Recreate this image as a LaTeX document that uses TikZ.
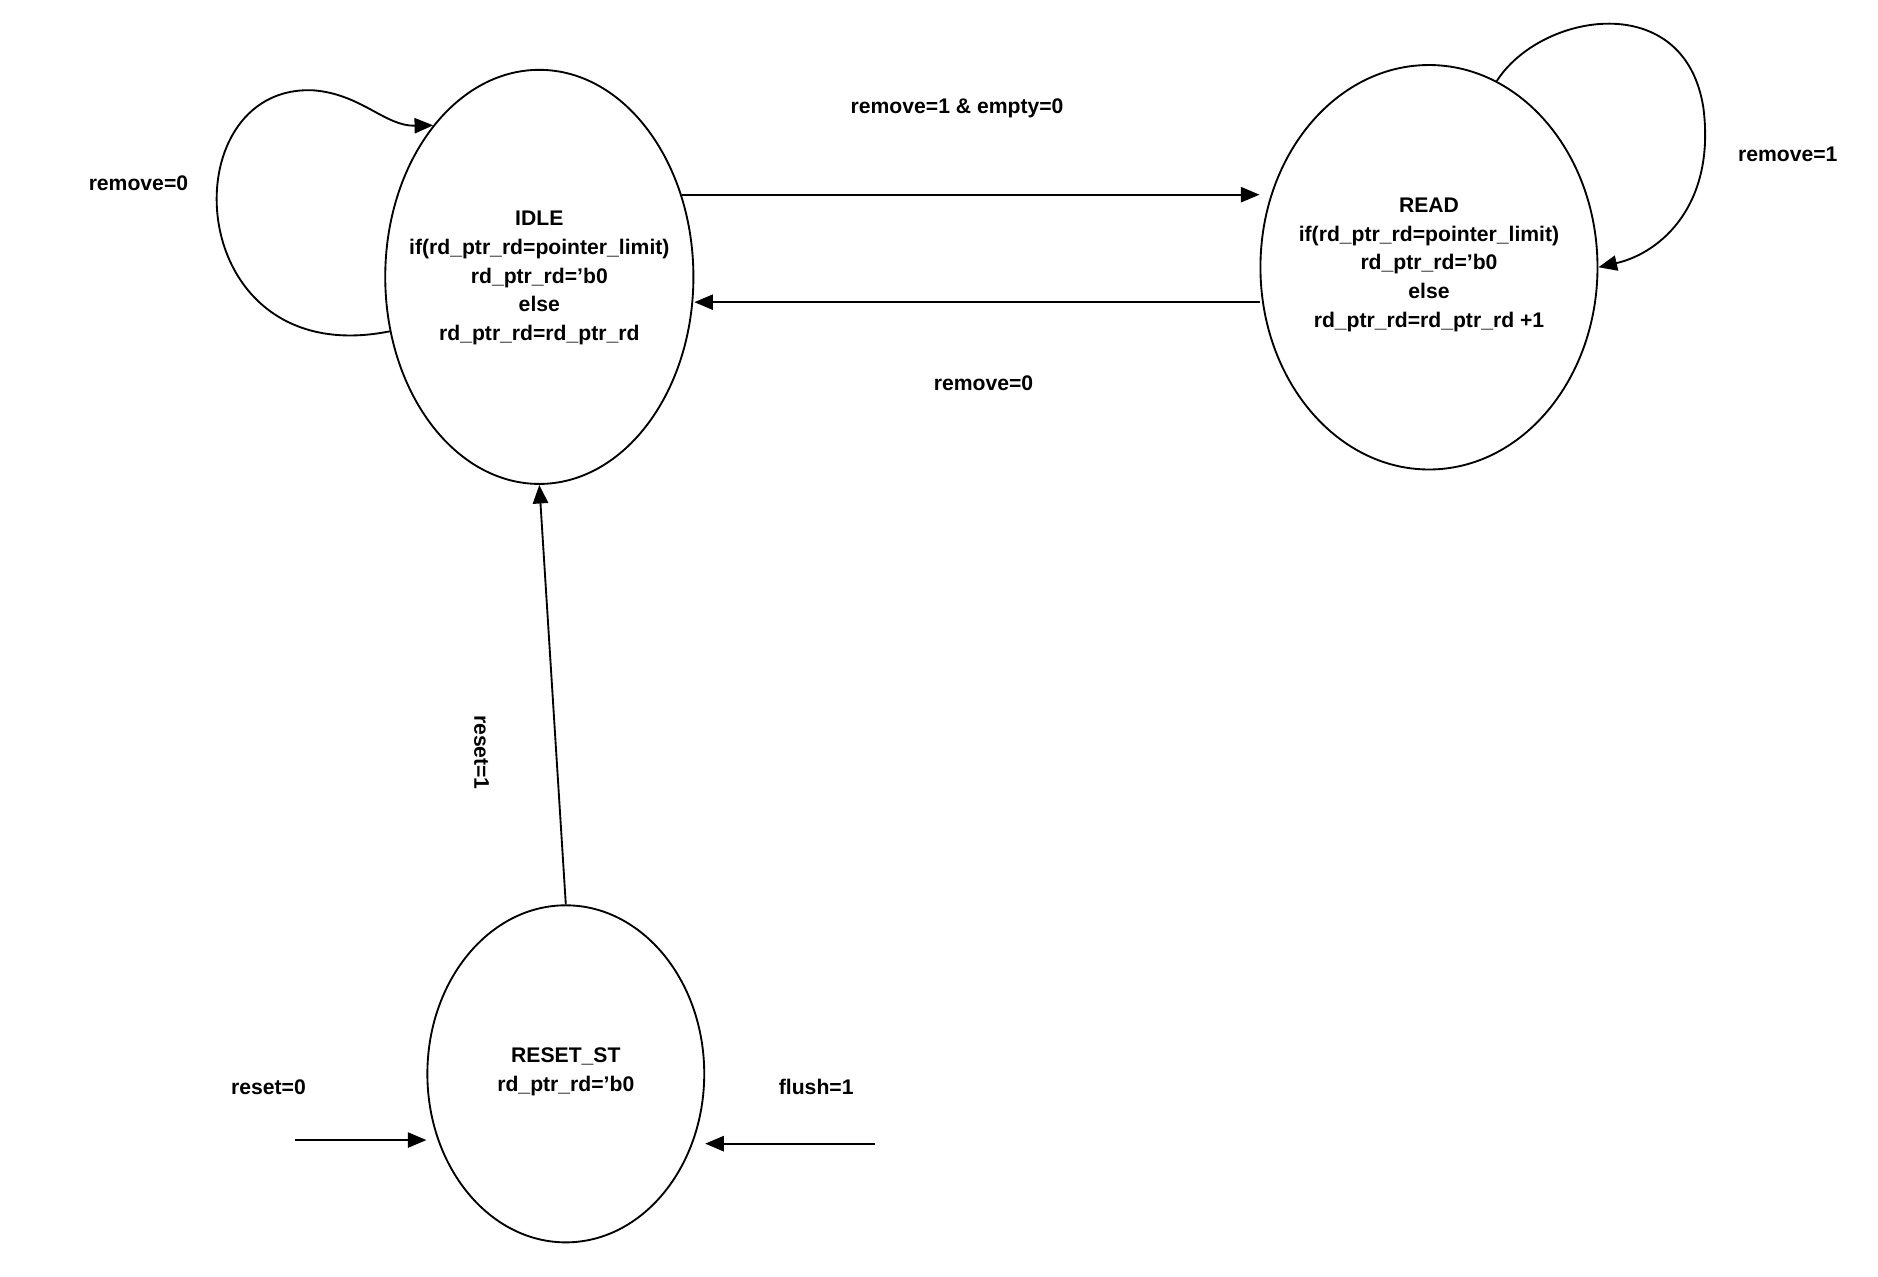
\documentclass[tikz,border=0pt]{standalone}
\usepackage{fontspec}
\setmainfont{Liberation Sans}
\usetikzlibrary{arrows.meta,shapes.geometric}
\begin{document}
\begin{tikzpicture}[x=0.05cm,y=-0.05cm,
  st/.style={draw,line width=2.2pt,ellipse,inner sep=0pt},
  lab/.style={font=\fontsize{25}{34}\selectfont\bfseries,align=center},
  arr/.style={line width=2.2pt,-{Triangle[length=22pt,width=18pt]}}]
\useasboundingbox (0,0) rectangle (1560,1060);
\node[st,minimum width=12.8cm,minimum height=17.2cm] (idle) at (448,230) {};
\node[st,minimum width=14cm,minimum height=16.8cm] (read) at (1187,222) {};
\node[st,minimum width=11.5cm,minimum height=14cm] (reset) at (470,892) {};
\node[lab] (tidle) at (448,231) {IDLE\\if(rd\_ptr\_rd=pointer\_limit)\\rd\_ptr\_rd='b0\\else\\rd\_ptr\_rd=rd\_ptr\_rd};
\node[lab] (tread) at (1187,220) {READ\\if(rd\_ptr\_rd=pointer\_limit)\\rd\_ptr\_rd='b0\\else\\rd\_ptr\_rd=rd\_ptr\_rd +1};
\node[lab] (treset) at (470,890) {RESET\_ST\\rd\_ptr\_rd='b0};
\coordinate (d1) at (245,947);
\coordinate (e1) at (727,950);
\draw[arr] (idle.30) -- (read.west |- idle.30) coordinate (a2);
\draw[arr] (read.west |- 0,251) -- (idle.east |- 0,251);
\draw[arr] (reset.north) -- (idle.south);
\draw[arr] (d1) -- (d1 -| reset.west);
\draw[arr] (e1) -- (e1 -| reset.east);
\draw[arr] (idle.200) .. controls (150,310) and (140,70) .. (260,75) .. controls (300,78) and (320,105) .. (idle.125);
\draw[arr] (read.70) .. controls (1280,10) and (1400,-10) .. (1415,90) .. controls (1425,170) and (1380,210) .. (read.east);
\node[lab] (n1) at (115,152) {remove=0};
\node[lab] (n2) at (795,90) {remove=1 \& empty=0};
\node[lab] (n3) at (817,318) {remove=0};
\node[lab] (n4) at (1485,128) {remove=1};
\node[lab,rotate=-90] (n5) at (400,625) {reset=1};
\node[lab] (n6) at (223,903) {reset=0};
\node[lab] (n7) at (678,903) {flush=1};
\end{tikzpicture}
\end{document}
